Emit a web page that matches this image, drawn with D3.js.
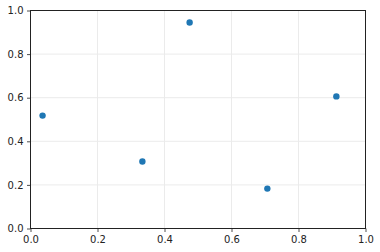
<!DOCTYPE html>
<html><head><meta charset="utf-8">
<script src="https://cdn.jsdelivr.net/npm/d3@7"></script>
<style>
html,body{margin:0;padding:0;background:#fff;}
svg{display:block;}
</style></head>
<body>
<svg id="chart" width="380" height="252"></svg>
<script>
const xValues = [0.036, 0.475, 0.913, 0.334, 0.707];
const yValues = [0.518, 0.945, 0.606, 0.307, 0.183];
const xTicks = [0, 0.2, 0.4, 0.6, 0.8, 1.0];
const yTicks = [0, 0.2, 0.4, 0.6, 0.8, 1.0];

const svg = d3.select("#chart");
const m = {left: 30.5, top: 10.5, right: 365.5, bottom: 228.5};
const x = d3.scaleLinear().domain([0, 1]).range([m.left, m.right]);
const y = d3.scaleLinear().domain([0, 1]).range([m.bottom, m.top]);

// grid
const g = svg.append("g");
g.selectAll("line.gx").data(xTicks).join("line")
  .attr("x1", d => x(d)).attr("x2", d => x(d))
  .attr("y1", m.top).attr("y2", m.bottom)
  .attr("stroke", "#ebebeb").attr("stroke-width", 1);
g.selectAll("line.gy").data(yTicks).join("line")
  .attr("y1", d => y(d)).attr("y2", d => y(d))
  .attr("x1", m.left).attr("x2", m.right)
  .attr("stroke", "#ebebeb").attr("stroke-width", 1);

// axes
const fmt = d3.format(".1f");
const xa = svg.append("g").attr("transform", `translate(0,${m.bottom})`)
  .call(d3.axisBottom(x).tickValues(xTicks).tickFormat(fmt).tickSizeOuter(0).tickSize(3.5).tickPadding(3.5));
const ya = svg.append("g").attr("transform", `translate(${m.left},0)`)
  .call(d3.axisLeft(y).tickValues(yTicks).tickFormat(fmt).tickSizeOuter(0).tickSize(3.5).tickPadding(3.5));
[xa, ya].forEach(a => {
  a.selectAll("text").attr("font-family", "DejaVu Sans").attr("font-size", 10).attr("fill", "#222");
  a.selectAll("line").attr("stroke", "#222").attr("stroke-width", 0.8);
  a.select(".domain").remove();
});

// spines
svg.append("rect").attr("x", m.left).attr("y", m.top)
  .attr("width", m.right - m.left).attr("height", m.bottom - m.top)
  .attr("fill", "none").attr("stroke", "#222").attr("stroke-width", 1);

// points
svg.append("g").selectAll("circle").data(xValues.map((v, i) => [v, yValues[i]])).join("circle")
  .attr("cx", d => x(d[0])).attr("cy", d => y(d[1])).attr("r", 3.2)
  .attr("fill", "#1f77b4");
</script>
</body></html>
